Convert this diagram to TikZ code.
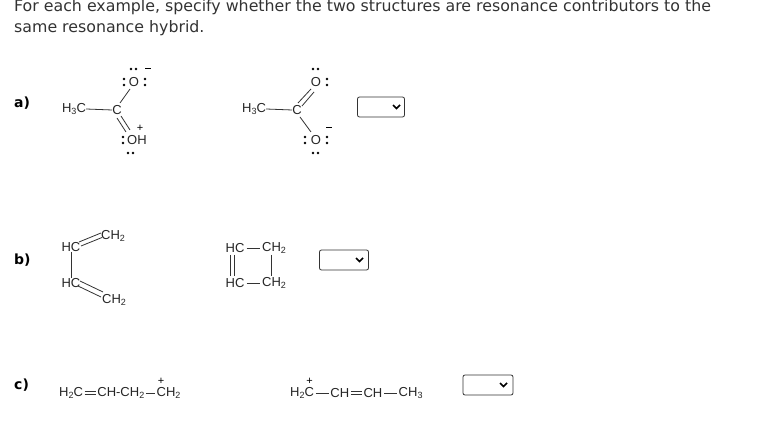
\documentclass[tikz,border=0pt]{standalone}
\usepackage{fontspec}
\setmainfont{Liberation Sans}
\newfontfamily\qfont{DejaVu Sans}
\newcommand\ssub[1]{\raisebox{-0.35ex}{\fontsize{9}{9}\selectfont #1}}
\begin{document}
\begin{tikzpicture}[x=1pt,y=-1pt,
  chem/.style={inner sep=0pt,font=\fontsize{13}{13}\selectfont,text=black!85},
  lbl/.style={inner sep=0pt,font=\qfont\bfseries\fontsize{14}{14}\selectfont,anchor=west},
  bd/.style={line width=0.8pt,black!80},
  dd/.style={circle,fill=black,inner sep=0pt,minimum size=2.6pt},
  mn/.style={line width=0.8pt},
  chg/.style={inner sep=0pt,font=\fontsize{11}{11}\selectfont},
  ddbox/.style={draw=black!80,rounded corners=2pt,line width=0.8pt,minimum width=47pt,minimum height=20pt,inner sep=0pt}]
\useasboundingbox[fill=white] (0,0) rectangle (766,443);
\node[anchor=north west,inner sep=0pt,align=left,font=\qfont\fontsize{15.8}{21}\selectfont,text=black!80] (q) at (14,-1)
 {For each example, specify whether the two structures are resonance contributors to the\\same resonance hybrid.};
% a)
\node[lbl] (la) at (14,103) {a)};
\node[chem] (a1) at (74,109) {H\ssub{3}C};
\node[chem] (a2) at (117,110) {C};
\node[chem] (a3) at (134,82) {O};
\node[chem,anchor=west] (a4) at (127,140) {OH};
\draw[bd] (a1.east) -- (a2.west);
\draw[bd] (120,103) -- (130,89);
\draw[bd] (117,118) -- (126,132);
\draw[bd] (121,116) -- (130,130);
\node[dd] at (131,69) {};\node[dd] at (136,69) {};
\node[dd] at (124,79) {};\node[dd] at (124,85) {};
\node[dd] at (145,79) {};\node[dd] at (145,85) {};
\draw[mn] (145,68) -- (151,68);
\node[dd] at (123,137) {};\node[dd] at (123,143) {};
\node[dd] at (128,153) {};\node[dd] at (133,153) {};
\node[chg] at (140,128) {+};
\node[chem] (b1) at (254,109) {H\ssub{3}C};
\node[chem] (b2) at (297,110) {C};
\node[chem] (b3) at (316,82) {O};
\node[chem] (b4) at (316,140) {O};
\draw[bd] (b1.east) -- (b2.west);
\draw[bd] (298,103) -- (311,89);
\draw[bd] (302,106) -- (314,92);
\draw[bd] (300,117) -- (311,132);
\node[dd] at (313,69) {};\node[dd] at (318,69) {};
\node[dd] at (327,79) {};\node[dd] at (327,85) {};
\node[dd] at (305,137) {};\node[dd] at (305,143) {};
\node[dd] at (327,137) {};\node[dd] at (327,143) {};
\node[dd] at (313,153) {};\node[dd] at (318,153) {};
\draw[mn] (326,127) -- (332,127);
\node[ddbox] (da) at (381,107) {};
\draw[line width=1.5pt] (da.center) ++(12,-2) -- ++(3.5,3.5) -- ++(3.5,-3.5);
% b)
\node[lbl] (lb) at (14,260) {b)};
\node[chem] (c1) at (71,247) {HC};
\node[chem,anchor=west] (c2) at (101,236) {CH\ssub{2}};
\node[chem] (c3) at (71,283) {HC};
\node[chem,anchor=west] (c4) at (102,300) {CH\ssub{2}};
\draw[bd] (79,242) -- (101,233);
\draw[bd] (81,246) -- (102,237.5);
\draw[bd] (78,286) -- (101,297);
\draw[bd] (80,281) -- (103,292);
\draw[bd] (c1.south) -- (c3.north);
\node[chem] (d1) at (235,248) {HC};
\node[chem,anchor=west] (d2) at (262,248) {CH\ssub{2}};
\node[chem] (d3) at (235,283) {HC};
\node[chem,anchor=west] (d4) at (262,283) {CH\ssub{2}};
\draw[bd] ([xshift=2pt]d1.east) -- ([xshift=-2pt]d2.west);
\draw[bd] ([xshift=2pt]d3.east) -- ([xshift=-2pt]d4.west);
\draw[bd] (230,255) -- (230,276);\draw[bd] (234,255) -- (234,276);
\draw[bd] (271,255) -- (271,276);
\node[ddbox,minimum width=49pt] (db) at (344,260) {};
\draw[line width=1.5pt] (db.center) ++(12,-2) -- ++(3.5,3.5) -- ++(3.5,-3.5);
% c)
\node[lbl] (lc) at (14,385) {c)};
\node[chem,anchor=west] (e1) at (59,393) {H\ssub{2}C};
\node[chem,anchor=west] (e2) at ([xshift=14pt]e1.east) {CH-CH\ssub{2}};
\node[chem,anchor=west] (e3) at ([xshift=12pt]e2.east) {CH\ssub{2}};
\draw[bd] ([xshift=1.5pt,yshift=1.8pt]e1.east) -- ([xshift=-1.5pt,yshift=1.8pt]e2.west);
\draw[bd] ([xshift=1.5pt,yshift=-1.8pt]e1.east) -- ([xshift=-1.5pt,yshift=-1.8pt]e2.west);
\draw[bd] ([xshift=1.5pt]e2.east) -- ([xshift=-1.5pt]e3.west);
\node[chg] at ([xshift=4.5pt,yshift=12pt]e3.west) {+};
\node[chem,anchor=west] (f1) at (290,393) {H\ssub{2}C};
\node[chem,anchor=west] (f2) at ([xshift=16pt]f1.east) {CH};
\node[chem,anchor=west] (f3) at ([xshift=14pt]f2.east) {CH};
\node[chem,anchor=west] (f4) at ([xshift=16pt]f3.east) {CH\ssub{3}};
\draw[bd] ([xshift=1.5pt]f1.east) -- ([xshift=-1.5pt]f2.west);
\draw[bd] ([xshift=1.5pt,yshift=1.8pt]f2.east) -- ([xshift=-1.5pt,yshift=1.8pt]f3.west);
\draw[bd] ([xshift=1.5pt,yshift=-1.8pt]f2.east) -- ([xshift=-1.5pt,yshift=-1.8pt]f3.west);
\draw[bd] ([xshift=1.5pt]f3.east) -- ([xshift=-1.5pt]f4.west);
\node[chg] at ([xshift=-4.5pt,yshift=12pt]f1.east) {+};
\node[ddbox,minimum width=50pt] (dc) at (488,385) {};
\draw[line width=1.5pt] (dc.center) ++(12,-2) -- ++(3.5,3.5) -- ++(3.5,-3.5);
\end{tikzpicture}
\end{document}
